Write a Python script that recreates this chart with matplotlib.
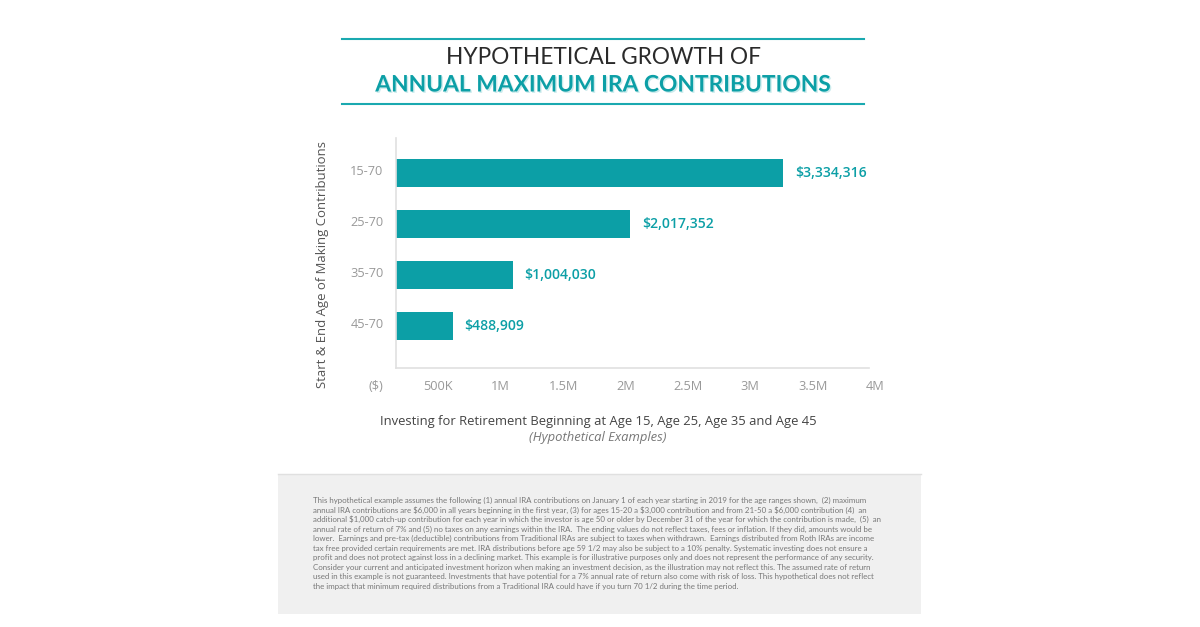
import matplotlib
matplotlib.use('Agg')
import matplotlib.pyplot as plt
import matplotlib.patheffects as pe
from matplotlib.lines import Line2D
from matplotlib.patches import Rectangle
from matplotlib.transforms import ScaledTranslation

age_ranges = ['15-70', '25-70', '35-70', '45-70']
end_values = [3334316, 2017352, 1004030, 488909]

tick_values = [0, 500000, 1000000, 1500000, 2000000, 2500000, 3000000, 3500000, 4000000]
tick_labels = ['($)', '500K', '1M', '1.5M', '2M', '2.5M', '3M', '3.5M', '4M']

footnote_lines = [
    'This hypothetical example assumes the following (1) annual IRA contributions on January 1 of each year starting in 2019 for the age ranges shown,  (2) maximum',
    'annual IRA contributions are $6,000 in all years beginning in the first year, (3) for ages 15-20 a $3,000 contribution and from 21-50 a $6,000 contribution (4)  an',
    'additional $1,000 catch-up contribution for each year in which the investor is age 50 or older by December 31 of the year for which the contribution is made,  (5)  an',
    'annual rate of return of 7% and (5) no taxes on any earnings within the IRA.  The ending values do not reflect taxes, fees or inflation. If they did, amounts would be',
    'lower.  Earnings and pre-tax (deductible) contributions from Traditional IRAs are subject to taxes when withdrawn.  Earnings distributed from Roth IRAs are income',
    'tax free provided certain requirements are met. IRA distributions before age 59 1/2 may also be subject to a 10% penalty. Systematic investing does not ensure a',
    'profit and does not protect against loss in a declining market. This example is for illustrative purposes only and does not represent the performance of any security.',
    'Consider your current and anticipated investment horizon when making an investment decision, as the illustration may not reflect this. The assumed rate of return',
    'used in this example is not guaranteed. Investments that have potential for a 7% annual rate of return also come with risk of loss. This hypothetical does not reflect',
    'the impact that minimum required distributions from a Traditional IRA could have if you turn 70 1/2 during the time period.',
]

TEAL = '#0c9fa6'
W, H = 1200, 627

plt.rcParams['font.family'] = ['Open Sans', 'DejaVu Sans']
fig = plt.figure(figsize=(W / 100, H / 100), dpi=100, facecolor='white')


def fx(px):
    return px / W


def fy(py):
    return 1 - py / H


def page_text(px, py, s, **kw):
    kw.setdefault('ha', 'center')
    kw.setdefault('va', 'center')
    return fig.text(fx(px), fy(py), s, parse_math=False, **kw)


# header rules and title
for py in (39, 104):
    fig.add_artist(Line2D([fx(342), fx(864)], [fy(py), fy(py)], color='#1aa9b0', lw=1.5))
page_text(604, 57.5, 'HYPOTHETICAL GROWTH OF', family='Lato', fontsize=16.3, color='#2a2a2a')
page_text(603.5, 85, 'ANNUAL MAXIMUM IRA CONTRIBUTIONS', family='Lato', fontweight='bold', fontsize=16.4, color=TEAL,
          path_effects=[pe.SimplePatchShadow(offset=(1, -1), shadow_rgbFace='#bfe6e8', alpha=0.8), pe.Normal()])

# bars
ax = fig.add_axes([fx(396), fy(368), fx(473), 230 / H])
ypos = list(range(len(age_ranges)))
ax.barh(ypos, end_values, height=0.55, color=TEAL, zorder=2)
ax.set_xlim(0, 473 / 116.2 * 1e6)
ax.set_ylim((368 - 173) / 51, -35 / 51)
ax.set_xticks([])
ax.set_yticks(ypos)
ax.set_yticklabels(age_ranges, fontsize=9.2, color='#999999')
ax.tick_params(axis='y', length=0, pad=9)
nudge = ScaledTranslation(0, 3 / 100, fig.dpi_scale_trans)
for lab in ax.get_yticklabels():
    lab.set_transform(lab.get_transform() + nudge)
for side in ('top', 'right'):
    ax.spines[side].set_visible(False)
for side in ('left', 'bottom'):
    ax.spines[side].set_color('#e0e0e0')
    ax.spines[side].set_linewidth(1.2)

for y, v in zip(ypos, end_values):
    ax.annotate(f'${v:,}', (v, y), xytext=(8.4, 0), textcoords='offset points',
                ha='left', va='center', fontsize=10.1, fontweight='semibold', color=TEAL,
                annotation_clip=False, parse_math=False)

# the printed tick labels run on their own spacing, wider than the bar scale
tick_ax = fig.add_axes([fx(376), fy(384), fx(499), 1 / H])
tick_ax.set_xlim(0, 4000000)
tick_ax.set_xticks(tick_values)
tick_ax.set_xticklabels(tick_labels, fontsize=9.2, color='#999999')
tick_ax.tick_params(axis='x', length=0, pad=-3)
tick_ax.set_yticks([])
tick_ax.patch.set_visible(False)
for spine in tick_ax.spines.values():
    spine.set_visible(False)

# axis captions
page_text(322.5, 264, 'Start & End Age of Making Contributions', rotation=90, fontsize=9.45, color='#555555')
page_text(598.5, 422, 'Investing for Retirement Beginning at Age 15, Age 25, Age 35 and Age 45', fontsize=9.4, color='#444444')
page_text(598, 437.5, '(Hypothetical Examples)', fontsize=9.4, style='italic', color='#777777')

# footnote panel
fig.add_artist(Rectangle((fx(278), fy(614)), fx(643), 140 / H, transform=fig.transFigure,
                         facecolor='#f0f0f0', edgecolor='none'))
fig.add_artist(Line2D([fx(278), fx(921)], [fy(474), fy(474)], color='#e0e0e0', lw=1))
for i, line in enumerate(footnote_lines):
    page_text(313, 500.5 + i * 9.56, line, ha='left', family='Lato', fontsize=5.65, color='#777777')

fig.savefig('out.png', dpi=100, facecolor='white')
